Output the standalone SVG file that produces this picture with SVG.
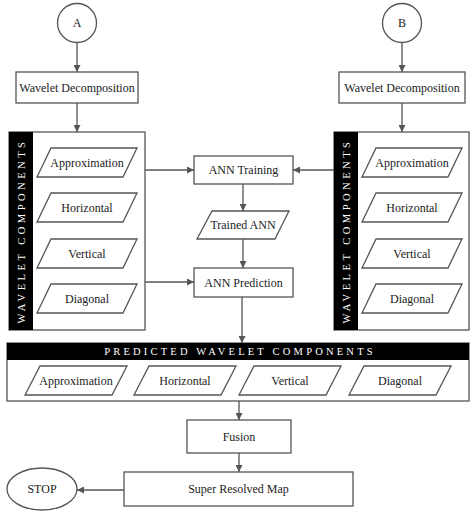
<svg xmlns="http://www.w3.org/2000/svg" width="474" height="513" viewBox="0 0 474 513">
<defs>
<marker id="ah" viewBox="0 0 10 10" refX="10" refY="5" markerWidth="7" markerHeight="7" markerUnits="userSpaceOnUse" orient="auto">
<path d="M0,0 L10,5 L0,10 z" fill="#555"/>
</marker>
</defs>
<style>
.b{fill:#fff;stroke:#555;stroke-width:1.3}
.k{fill:#000}
text{font-family:'Liberation Serif','Times New Roman',Times,serif}
.t{font-size:12px;fill:#222;text-anchor:middle;dominant-baseline:central}
.w{font-size:10.5px;fill:#fff;text-anchor:middle;dominant-baseline:central;letter-spacing:3.5px}
.c{fill:none;stroke:#555;stroke-width:1.3;marker-end:url(#ah)}
</style>
<rect width="474" height="513" fill="#fff"/>
<g id="nodeA"><circle class="b" cx="77" cy="23" r="19.5"/><text class="t" x="77" y="23">A</text></g>
<g id="nodeB"><circle class="b" cx="402" cy="23" r="19.5"/><text class="t" x="402" y="23">B</text></g>
<g id="wdA"><rect class="b" x="16" y="72" width="122" height="31"/><text class="t" x="77" y="87.5">Wavelet Decomposition</text></g>
<g id="wdB"><rect class="b" x="339" y="72" width="126" height="31"/><text class="t" x="402" y="87.5">Wavelet Decomposition</text></g>
<g id="wcA">
<rect class="b" x="9" y="132" width="136" height="198"/>
<rect class="k" x="9" y="132" width="24" height="198"/>
<text class="w" transform="translate(21,231) rotate(-90)">WAVELET COMPONENTS</text>
<polygon class="b" points="51,148 137,148 123,177 37,177"/><text class="t" x="87" y="162.5">Approximation</text>
<polygon class="b" points="51,193 137,193 123,222 37,222"/><text class="t" x="87" y="207.5">Horizontal</text>
<polygon class="b" points="51,239 137,239 123,268 37,268"/><text class="t" x="87" y="253.5">Vertical</text>
<polygon class="b" points="51,284 137,284 123,313 37,313"/><text class="t" x="87" y="298.5">Diagonal</text>
</g>
<g id="wcB">
<rect class="b" x="334" y="132" width="135" height="198"/>
<rect class="k" x="334" y="132" width="24" height="198"/>
<text class="w" transform="translate(346,231) rotate(-90)">WAVELET COMPONENTS</text>
<polygon class="b" points="376,148 462,148 448,177 362,177"/><text class="t" x="412" y="162.5">Approximation</text>
<polygon class="b" points="376,193 462,193 448,222 362,222"/><text class="t" x="412" y="207.5">Horizontal</text>
<polygon class="b" points="376,239 462,239 448,268 362,268"/><text class="t" x="412" y="253.5">Vertical</text>
<polygon class="b" points="376,284 462,284 448,313 362,313"/><text class="t" x="412" y="298.5">Diagonal</text>
</g>
<g id="annTrain"><rect class="b" x="194" y="156" width="99" height="28"/><text class="t" x="243.5" y="170">ANN Training</text></g>
<g id="trained"><polygon class="b" points="212,211 289,211 275,239 197,239"/><text class="t" x="243" y="225">Trained ANN</text></g>
<g id="annPred"><rect class="b" x="194" y="268" width="99" height="29"/><text class="t" x="243.5" y="282.5">ANN Prediction</text></g>
<g id="pwc">
<rect class="b" x="7" y="343" width="462" height="58"/>
<rect class="k" x="7" y="343" width="462" height="17"/>
<text class="w" x="240" y="351.5" style="letter-spacing:3.2px">PREDICTED WAVELET COMPONENTS</text>
<polygon class="b" points="40,366 127,366 112,395 25,395"/><text class="t" x="76" y="380.5">Approximation</text>
<polygon class="b" points="149,366 236,366 221,395 134,395"/><text class="t" x="185" y="380.5">Horizontal</text>
<polygon class="b" points="254,366 341,366 326,395 239,395"/><text class="t" x="290" y="380.5">Vertical</text>
<polygon class="b" points="364,366 451,366 436,395 349,395"/><text class="t" x="400" y="380.5">Diagonal</text>
</g>
<g id="fusion"><rect class="b" x="187" y="420" width="104" height="33"/><text class="t" x="239" y="436.5">Fusion</text></g>
<g id="srm"><rect class="b" x="124" y="472" width="229" height="34"/><text class="t" x="238.5" y="489">Super Resolved Map</text></g>
<g id="stop"><ellipse class="b" cx="42" cy="489" rx="35" ry="21"/><text class="t" x="42" y="489">STOP</text></g>
<g id="connectors">
<path class="c" d="M77,43 V72"/>
<path class="c" d="M402,43 V72"/>
<path class="c" d="M77,103 V132"/>
<path class="c" d="M402,103 V132"/>
<path class="c" d="M145,170 H194"/>
<path class="c" d="M145,282 H194"/>
<path class="c" d="M334,170 H293"/>
<path class="c" d="M243,184 V211"/>
<path class="c" d="M243,239 V268"/>
<path class="c" d="M242,297 V343"/>
<path class="c" d="M239,401 V420"/>
<path class="c" d="M239,453 V472"/>
<path class="c" d="M124,490 H77"/>
</g>
</svg>
